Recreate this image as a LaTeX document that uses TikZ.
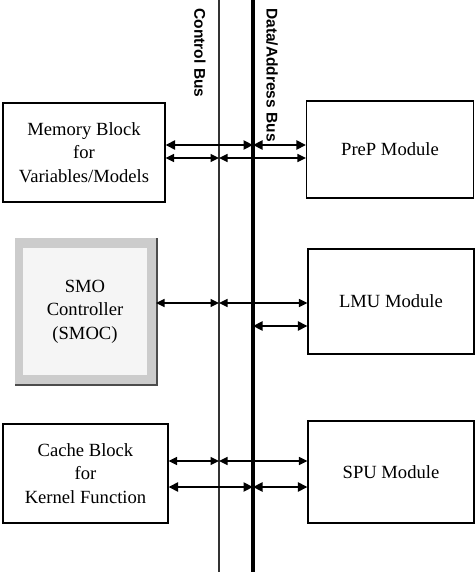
\documentclass[tikz,border=0pt]{standalone}
\usepackage{fontspec}
\setmainfont{Liberation Serif}
\newfontfamily\busfont{Liberation Sans}
\usetikzlibrary{arrows.meta}
\begin{document}
\begin{tikzpicture}[x=1pt,y=-1pt,
  box/.style={draw=black,line width=1.1pt,inner sep=0pt,align=center,
    font=\fontsize{18.6}{23.5}\selectfont},
  thinarr/.style={line width=1.3pt,{Triangle[length=8.5pt,width=8pt]}-{Triangle[length=8.5pt,width=8pt]}},
  thickarr/.style={line width=2.5pt,{Triangle[length=9.5pt,width=9pt]}-{Triangle[length=9.5pt,width=9pt]}},
  buslabel/.style={rotate=-90,font=\busfont\bfseries\fontsize{15.5}{17}\selectfont,inner sep=0pt}]
\useasboundingbox (0,0) rectangle (474,572);
% buses
\coordinate (cbtop) at (219,0);
\coordinate (cbbot) at (219,572);
\coordinate (dbtop) at (253,0);
\coordinate (dbbot) at (253,572);
\draw[line width=1.1pt,black!80] (cbtop) -- (cbbot);
\draw[line width=4pt] (dbtop) -- (dbbot);
\node[buslabel] (cbl) at (200,53) {Control Bus};
\node[buslabel] (dbl) at (272,75) {Data/Address Bus};
% left boxes
\node[box,minimum width=162pt,minimum height=99pt] (mem) at (84,152.5)
  {Memory Block\\for\\Variables/Models};
\node[box,minimum width=165pt,minimum height=99pt] (cache) at (85.5,473.5)
  {Cache Block\\for\\Kernel Function};
% SMO box
\fill[black!20] (15,238) rectangle (157,385);
\draw[line width=2pt,black!70] (15,385) -- (157,385) -- (157,238);
\node[box,draw=none,fill=black!4,minimum width=124pt,minimum height=127pt] (smo) at (85,311.5)
  {SMO\\Controller\\(SMOC)};
\coordinate (smoR) at (156,303);
% right boxes
\node[box,minimum width=167pt,minimum height=97pt] (prep) at (390,149.5) {PreP Module};
\node[box,minimum width=166pt,minimum height=105pt] (lmu) at (391,301.5) {LMU Module};
\node[box,minimum width=166pt,minimum height=102pt] (spu) at (391,472) {SPU Module};
% junction coordinates
\coordinate (c1) at (219,158);
\coordinate (d1) at (253,145);
\coordinate (c2) at (219,303);
\coordinate (d2) at (253,326);
\coordinate (c3) at (219,461);
\coordinate (d3) at (253,487);
% memory connections
\draw[thickarr] (mem.east |- d1) -- (d1);
\draw[thickarr] (d1) -- (prep.west |- d1);
\draw[thinarr] (mem.east |- c1) -- (c1);
\draw[thinarr] (c1) -- (prep.west |- c1);
% SMO / LMU connections
\draw[thinarr] (smoR) -- (c2);
\draw[thinarr] (c2) -- (lmu.west |- c2);
\draw[thickarr] (d2) -- (lmu.west |- d2);
% cache / SPU connections
\draw[thinarr] (cache.east |- c3) -- (c3);
\draw[thinarr] (c3) -- (spu.west |- c3);
\draw[thickarr] (cache.east |- d3) -- (d3);
\draw[thickarr] (d3) -- (spu.west |- d3);
\end{tikzpicture}
\end{document}
